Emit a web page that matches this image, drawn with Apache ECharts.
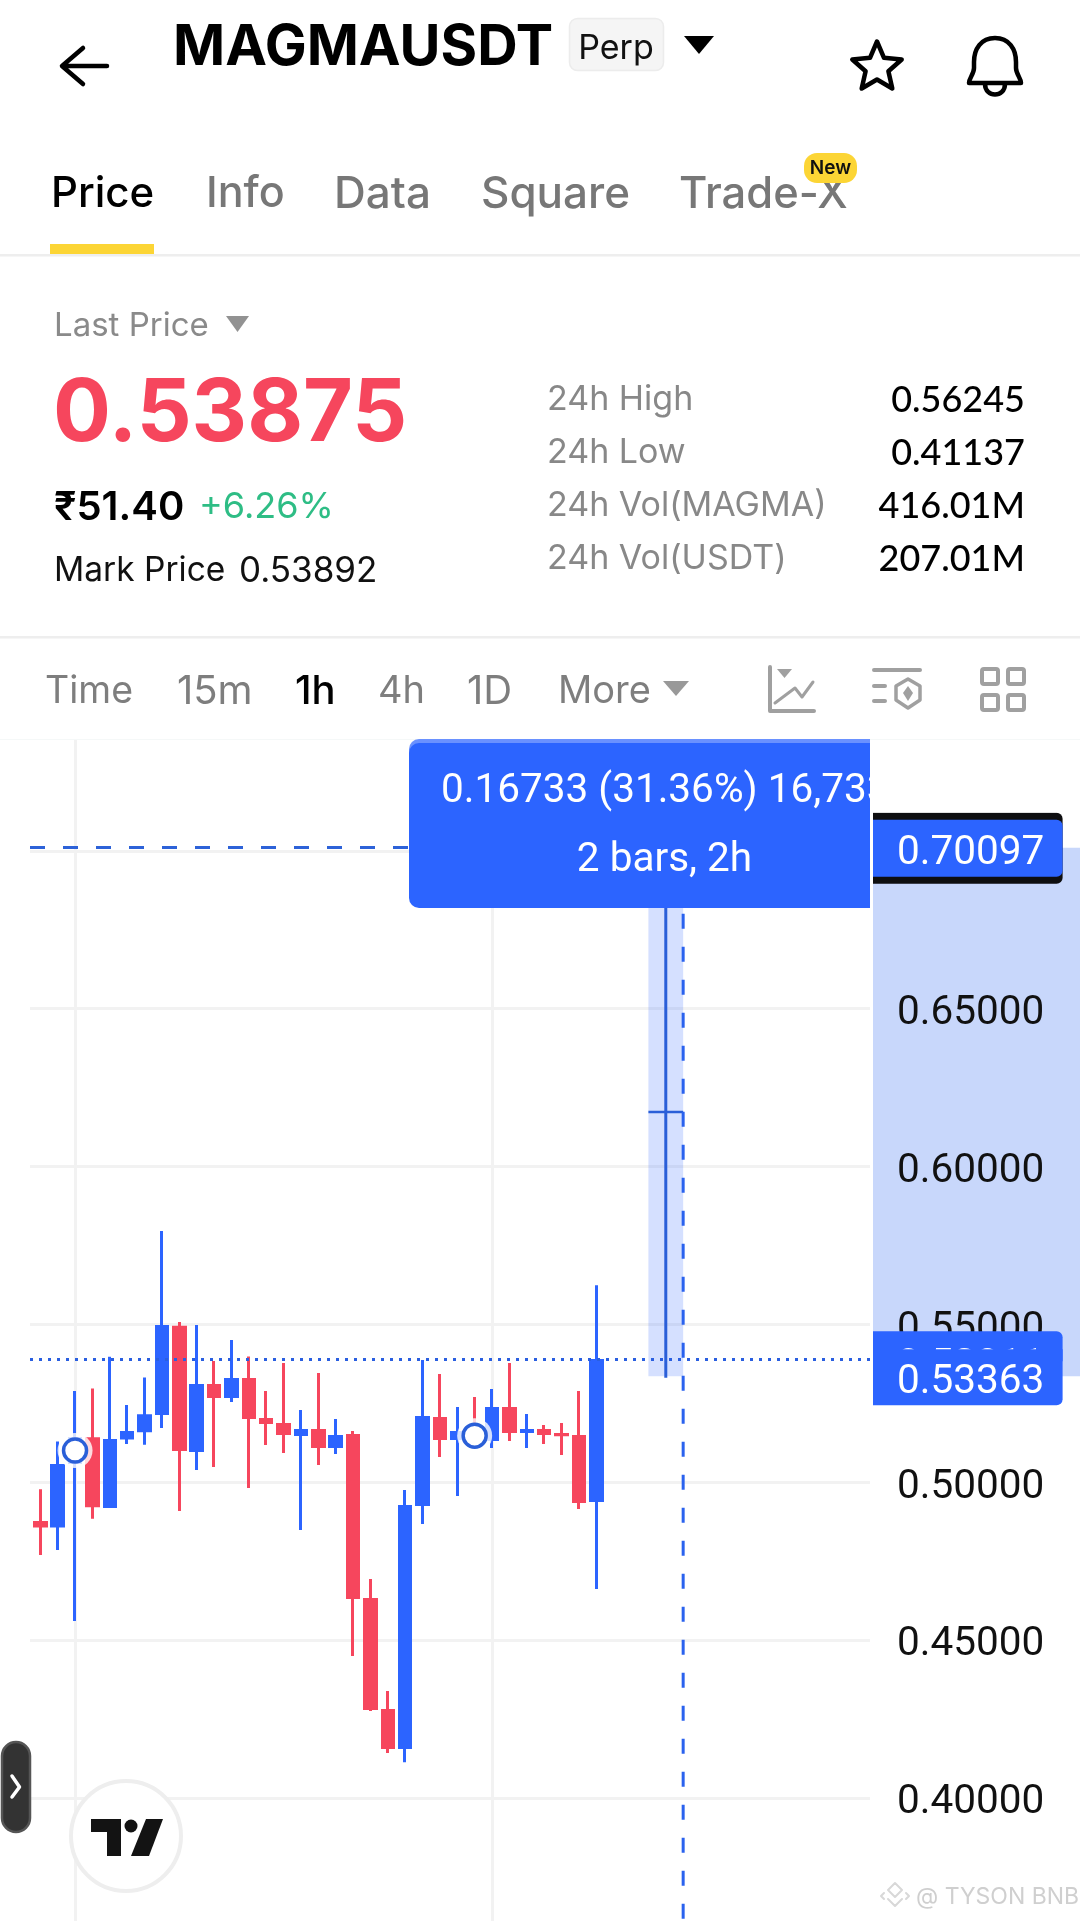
<!DOCTYPE html>
<html><head><meta charset="utf-8">
<style>html,body{margin:0;padding:0;background:#fff;width:1080px;height:1921px;overflow:hidden}#c{width:1080px;height:2010px}</style>
<script src="https://cdn.jsdelivr.net/npm/echarts@6/dist/echarts.min.js"></script>
</head><body><div id="c"></div>
<script>
// ---- chart values ----
const opens  = [0.48730,0.48619,0.50630,0.51384,0.49237,0.51406,0.51637,0.52182,0.54911,0.51010,0.53068,0.52720,0.53258,0.51992,0.51833,0.51517,0.51643,0.51137,0.51485,0.46292,0.42777,0.41605,0.49300,0.52023,0.51390,0.51580,0.51358,0.52340,0.51612,0.51643,0.51517,0.51453,0.49427];
const closes = [0.48619,0.50535,0.51390,0.49262,0.51327,0.51580,0.52112,0.54937,0.51042,0.53068,0.52720,0.53258,0.52055,0.51897,0.51548,0.51643,0.51137,0.51453,0.46355,0.42840,0.41605,0.49237,0.52055,0.51390,0.51580,0.51358,0.52340,0.51612,0.51643,0.51548,0.51510,0.49395,0.53860];
const lows   = [0.47701,0.47859,0.45614,0.48850,0.49237,0.51216,0.51191,0.51723,0.49094,0.50393,0.50488,0.52546,0.49823,0.51184,0.50931,0.48493,0.50551,0.50899,0.44503,0.42761,0.41431,0.41137,0.48683,0.50804,0.49569,0.51153,0.51089,0.51311,0.51089,0.51216,0.50868,0.49158,0.46624];
const highs  = [0.49785,0.51298,0.52897,0.52970,0.53977,0.52451,0.53322,0.57964,0.55079,0.54984,0.53844,0.54509,0.53990,0.52894,0.53781,0.52293,0.53464,0.52008,0.51628,0.46941,0.43394,0.49759,0.53876,0.53433,0.52388,0.52704,0.52958,0.53781,0.52166,0.51818,0.51881,0.52894,0.56245];
const slots = ['0','1','2','3','4','5','6','7','8','9','10','11','12','13','14','15','16','17','18','19','20','21','22','23','24','25','26','27','28','29','30','31','32','33','34','35','36','37','38','39','40','41','42','43','44','45','46','47'];
const dayLineSlots = [2,26];
const eventSlots = [2,25];
const eventPrices = [0.5101,0.51479];
const markPrice = 0.53892;
const rangeHigh = 0.70097;
const rangeLow = 0.53363;
const rangeMid = 0.6173;
const rangeSlots = [35,36,37];
const axisMin = 0.35, axisMax = 0.75, axisStep = 0.05;

const BLUE='#2c64ff', RED='#f6465d', F='Inter', GRID='#f2f2f2';
const candleData = opens.map((o,i)=>[o,closes[i],lows[i],highs[i]]);

// Layout: one y pixel scale shared by three grids
const gTop=692.9, gH=1263.2;
const yBase = (idx,extra)=>Object.assign({type:'value',gridIndex:idx,min:axisMin,max:axisMax,interval:axisStep,scale:true,
  axisLine:{show:false},axisTick:{show:false},axisLabel:{show:false},splitLine:{show:false}},extra||{});

// ---- page chrome ----
const g=[], icons=[];
const T=(x,y,text,size,color,o)=>g.push({type:'text',z:(o&&o.z)||60,silent:true,style:{x,y,text,fill:color,fontFamily:(o&&o.f)||F,fontSize:size,fontWeight:(o&&o.w)||400,align:(o&&o.a)||'left',verticalAlign:'middle'}});
const R=(x,y,w,h,fill,o)=>g.push({type:'rect',z:(o&&o.z)||55,silent:true,shape:{x,y,width:w,height:h,r:(o&&o.r)||0},style:{fill,stroke:(o&&o.s)||undefined,lineWidth:(o&&o.lw)||0}});
const P=(d,o)=>icons.push({type:'path',shape:{pathData:d},style:{fill:o.fill||'none',stroke:o.stroke||'none',lineWidth:o.lw||0,lineCap:'round',lineJoin:'round'}});

R(0,0,1080,739.5,'#fff',{z:50});
R(0,739,1080,1,'#f5f8f8',{z:51});
// header
P('M107 66 H63 M83 48 L62 66 L83 84',{stroke:'#000',lw:4.5});
T(173,48,'MAGMAUSDT',56,'#000',{w:700});
R(569.5,18.5,94,52,'#f5f5f5',{r:8,s:'#ececec',lw:1.5,z:56});
T(616,49,'Perp',34,'#111',{a:'center'});
P('M684 36 H714 L699 54 Z',{fill:'#000'});
P('M877 41.5 L884 57.8 L901.7 59.5 L888.4 71.2 L892.3 88.5 L877 79.5 L861.7 88.5 L865.6 71.2 L852.3 59.5 L870 57.8 Z',{stroke:'#000',lw:4.5});
P('M995 38 C981 38 974 49 974 62 L974 68 C974 74 969 78 969 83 L1021 83 C1021 78 1016 74 1016 68 L1016 62 C1016 49 1009 38 995 38 Z M985 84 C985 98 1005 98 1005 84',{stroke:'#000',lw:4.5});
// tabs
const tabY=194.5;
T(51,tabY,'Price',42,'#000',{w:500});
T(206,tabY,'Info',43,'#777',{w:500});
T(334,tabY,'Data',44,'#777',{w:500});
T(481,tabY,'Square',44,'#777',{w:500});
T(679,tabY,'Trade-X',43.5,'#777',{w:500});
R(804,153,53,30,'#fcd535',{r:13,z:61});
T(830.5,168,'New',19,'#111',{w:600,a:'center',z:62});
R(50,244,104,10,'#fcd535');
R(0,254,1080,2.5,'#eeeeee');
// price panel
T(54,326,'Last Price',33,'#8a8a8a');
P('M226 316 H249 L237.5 332 Z',{fill:'#929292'});
T(53,415.5,'0.53875',86,RED,{w:700});
T(54,507.5,'₹51.40',40,'#000',{w:600});
T(199,507,'+6.26%',36,'#2ebd85');
T(54,571,'Mark Price',33.5,'#111');
T(239,571,'0.53892',35,'#111');
const lblX=547,valX=1025;
[['24h High','0.56245',400],['24h Low','0.41137',453],['24h Vol(MAGMA)','416.01M',506],['24h Vol(USDT)','207.01M',559]].forEach(r=>{
  T(lblX,r[2],r[0],34,'#888');
  T(valX,r[2],r[1],36,'#000',{a:'right',w:500,f:'Lato'});
});
R(0,636,1080,2.5,'#eeeeee');
// toolbar
const barY=691.5;
T(45,barY,'Time',37.5,'#7e7e7e');
T(177,barY,'15m',40,'#7e7e7e');
T(295,barY,'1h',40,'#000',{w:500});
T(378,barY,'4h',38,'#7e7e7e');
T(467,barY,'1D',40,'#7e7e7e');
T(558,barY,'More',38,'#7e7e7e');
P('M663 681 H689 L676 696 Z',{fill:'#999'});
P('M770 667 V711 H814',{stroke:'#a0a0a0',lw:4});
P('M777 669 H792 L784.5 678 Z',{fill:'#a0a0a0'});
P('M775 703 L795 688 L802 697 L813 682',{stroke:'#a0a0a0',lw:3});
P('M874 670 H920 M874 686 H885 M874 701 H885',{stroke:'#a0a0a0',lw:4});
P('M908 679 L920 686 V700 L908 708 L896 700 V686 Z',{stroke:'#a0a0a0',lw:3.5});
P('M908 686 L913 693 L908 701 L903 693 Z',{fill:'#a0a0a0'});
[[980,667],[1006,667],[980,693],[1006,693]].forEach(p=>R(p[0]+2,p[1]+2,16,15,'none',{s:'#a0a0a0',lw:4,r:2,z:60}));
// range tooltip
R(409,739,461,30,'#6a91ff',{r:[10,0,0,0],z:62});
R(409,743,461,165,BLUE,{r:[10,0,0,10],z:62});
T(441,792,'0.16733 (31.36%) 16,733',40.5,'#fff',{f:'Roboto',z:63});
T(664.5,860.5,'2 bars, 2h',40.5,'#fff',{f:'Roboto',a:'center',z:63});
R(870,740,210,72.5,'#fff',{z:64});
// pill and logo
R(2,1742,28,90,'#333',{r:14,s:'#555',lw:2.5,z:60});
P('M12 1776 L19.5 1787 L12 1797',{stroke:'#fff',lw:3.5});
g.push({type:'circle',z:60,silent:true,shape:{cx:126,cy:1836,r:55},style:{fill:'#fff',stroke:'#eeeeee',lineWidth:4}});
P('M91 1819 H121 V1856 H107 V1832 H91 Z',{fill:'#131313'});
g.push({type:'circle',z:61,silent:true,shape:{cx:131,cy:1826,r:6.5},style:{fill:'#131313'}});
P('M146 1819 H163 L149 1856 H131 Z',{fill:'#131313'});
// watermark
P('M895 1883 L902 1890 L895 1897 L888 1890 Z M884 1893 L881 1896 L884 1899 M906 1893 L909 1896 L906 1899 M888 1899 L895 1906 L902 1899',{stroke:'#d8d8d8',lw:2});
T(916,1897,'@ TYSON BNB',23,'#cfcfcf',{f:'Inter'});

const ringStyle={color:'#fff',borderColor:'#2a5fd8',borderWidth:3.5,opacity:1};

const option={
  animation:false,
  backgroundColor:'#fff',
  tooltip:{show:false},
  grid:[
    {left:30,top:gTop,width:840,height:gH,outerBoundsMode:'none'},
    {left:31.6,top:gTop,width:834,height:gH,outerBoundsMode:'none'},
    {left:873,top:gTop,width:207,height:gH,outerBoundsMode:'none'}
  ],
  xAxis:[
    {type:'value',gridIndex:0,min:0,max:1,show:false},
    {type:'category',gridIndex:1,data:slots,show:false,boundaryGap:true},
    {type:'value',gridIndex:2,min:0,max:1,show:false}
  ],
  yAxis:[
    yBase(0,{splitLine:{show:true,lineStyle:{color:GRID,width:3}}}),
    yBase(1),
    yBase(2,{position:'left',z:5,axisLabel:{show:true,inside:true,margin:24,color:'#111',fontFamily:'Roboto',fontSize:40.5,verticalAlign:'top',lineHeight:10,formatter:v=>v.toFixed(5)}})
  ],
  series:[
    // price lines across the pane
    {type:'line',xAxisIndex:0,yAxisIndex:0,data:[],silent:true,
     markLine:{silent:true,symbol:'none',z:5,precision:5,label:{show:false},animation:false,data:[
       {yAxis:markPrice,lineStyle:{color:'#2a5fe0',width:3,type:[3,6]}},
       {yAxis:rangeHigh,lineStyle:{color:'#2d62d8',width:3,type:[15,18]}}
     ]}},
    // candles
    {type:'candlestick',xAxisIndex:1,yAxisIndex:1,barWidth:12,z:3,data:candleData,silent:true,
     itemStyle:{color:BLUE,color0:RED,borderColor:BLUE,borderColor0:RED,borderWidth:3},
     markLine:{silent:true,symbol:'none',z:1,label:{show:false},animation:false,
       lineStyle:{color:GRID,width:3,type:'solid'},
       data:dayLineSlots.map(s=>({xAxis:s}))},
     markArea:{silent:true,z:2,itemStyle:{color:'rgba(44,100,255,0.2)'},
       data:[[{xAxis:rangeSlots[0],yAxis:rangeHigh},{xAxis:rangeSlots[2],yAxis:rangeLow}]]}},
    // range tool lines
    {type:'line',xAxisIndex:1,yAxisIndex:1,z:4,symbol:'none',silent:true,lineStyle:{color:'#2a5fd8',width:3},
     data:[[rangeSlots[1],rangeHigh],[rangeSlots[1],rangeLow-0.0005]]},
    {type:'line',xAxisIndex:1,yAxisIndex:1,z:4,symbol:'none',silent:true,lineStyle:{color:'#2a5fd8',width:2.5},
     data:[[rangeSlots[0],rangeMid],[rangeSlots[2],rangeMid]]},
    {type:'line',xAxisIndex:1,yAxisIndex:1,z:4,symbol:'none',silent:true,lineStyle:{color:'#2a62ee',width:3,type:[15,18]},
     data:[[rangeSlots[2],rangeHigh],[rangeSlots[2],axisMin]]},
    // event markers
    {type:'scatter',xAxisIndex:1,yAxisIndex:1,z:6,symbolSize:35,silent:true,itemStyle:{color:'#fff'},
     data:eventSlots.map((s,i)=>[s,eventPrices[i]])},
    {type:'scatter',xAxisIndex:1,yAxisIndex:1,z:7,symbolSize:23,silent:true,itemStyle:ringStyle,
     data:eventSlots.map((s,i)=>[s,eventPrices[i]])},
    // price-scale band
    {type:'line',xAxisIndex:2,yAxisIndex:2,symbol:'none',silent:true,lineStyle:{width:0},data:[[0,rangeLow]],
     markArea:{silent:true,z:1,itemStyle:{color:'#c8d7fb'},data:[[{yAxis:rangeHigh},{yAxis:rangeLow}]]}},
    // price-scale tags
    {type:'custom',xAxisIndex:2,yAxisIndex:2,z:10,silent:true,clip:false,
     data:[[0,rangeHigh]],
     renderItem:(p,api)=>{
       const c=api.coord([0,api.value(1)]);
       return {type:'group',children:[
         {type:'rect',shape:{x:873,y:c[1]-35,width:189.6,height:71,r:[0,6,6,0]},style:{fill:'#0e0e10'}},
         {type:'rect',shape:{x:873,y:c[1]-28,width:189.6,height:57,r:[0,6,6,0]},style:{fill:BLUE}},
         {type:'text',style:{x:897,y:c[1]+6.5,text:api.value(1).toFixed(5),fill:'#fff',fontFamily:'Roboto',fontSize:40.5,verticalAlign:'middle'}}
       ]};
     }},
    {type:'custom',xAxisIndex:2,yAxisIndex:2,z:11,silent:true,clip:false,
     data:[[0,rangeLow]],
     renderItem:(p,api)=>{
       const c=api.coord([0,api.value(1)]);
       return {type:'group',children:[
         {type:'rect',shape:{x:873,y:c[1]-45,width:189.6,height:30,r:[0,6,0,0]},style:{fill:BLUE}},
         {type:'text',style:{x:897,y:c[1]-9.7,text:'0.53811',fill:'#fff',fontFamily:'Roboto',fontSize:40.5,verticalAlign:'middle'}},
         {type:'rect',shape:{x:873,y:c[1]-27,width:189.6,height:56,r:[0,0,6,0]},style:{fill:BLUE}},
         {type:'text',style:{x:897,y:c[1]+7,text:api.value(1).toFixed(5),fill:'#fff',fontFamily:'Roboto',fontSize:40.5,verticalAlign:'middle'}}
       ]};
     }},
    // page icons
    {type:'custom',coordinateSystem:'none',z:62,silent:true,data:[[0]],
     renderItem:()=>({type:'group',children:icons})}
  ],
  graphic:{elements:g}
};
const chart=echarts.init(document.getElementById('c'),null,{width:1080,height:2010});
chart.setOption(option);
</script></body></html>
